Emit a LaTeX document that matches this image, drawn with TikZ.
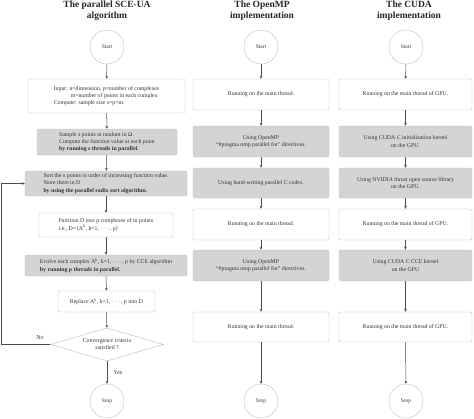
\documentclass[tikz,border=0pt]{standalone}
\usepackage{fontspec}
\setmainfont{Liberation Serif}
\usetikzlibrary{shapes.geometric,arrows.meta}

\tikzset{
  whitebox/.style={draw=gray!50, fill=white, rounded corners=2pt, text=black!80,
    font=\fontsize{5.8}{7.2}\selectfont, align=center, inner sep=1pt},
  graybox/.style={whitebox, fill=gray!34},
  term/.style={circle, draw=gray!50, minimum size=34pt, inner sep=0pt, text=black!80,
    font=\fontsize{5.5}{7}\selectfont},
  decide/.style={diamond, draw=gray!55, aspect=3.4, minimum width=113pt, minimum height=33pt,
    inner sep=0pt, text=black!80, font=\fontsize{5.8}{7.2}\selectfont, align=center},
  coltitle/.style={font=\fontsize{9.5}{11.5}\selectfont\bfseries, align=center, text=black!85},
  tag/.style={font=\fontsize{6}{7}\selectfont, text=black!80},
  flow/.style={-{Stealth[length=3pt,width=2.6pt]}, draw=black!70, line width=0.5pt},
}

\begin{document}
\begin{tikzpicture}[x=1pt,y=1pt]
	\useasboundingbox (0,0) rectangle (474,-418);

	% column titles
	\node[coltitle] (tsce) at (107,-10.5) {The parallel SCE-UA\\algorithm};
	\node[coltitle] (tomp) at (262,-10.5) {The OpenMP\\implementation};
	\node[coltitle] (tcuda) at (409,-10.5) {The CUDA\\implementation};

	% the parallel SCE-UA algorithm
	\node[term] (s1) at (107,-47) {Start};
	\node[whitebox, minimum width=157pt, minimum height=34pt, align=left] (input) at (106.5,-96)
		{Input: n=dimension, p=number of complexes\\\hspace*{17pt}m=number of points in each complex\\Compute: sample size s=p×m.};
	\node[graybox, minimum width=140pt, minimum height=26pt, align=left] (sample) at (107,-142)
		{Sample s points at random in Ω.\\Compute the function value at each point\\\textbf{by running s threads in parallel.}};
	\node[graybox, minimum width=162pt, minimum height=25pt, align=left] (sort) at (106,-183.5)
		{Sort the s points in order of increasing function value.\\Store them in D\\\textbf{by using the parallel radix sort algorithm.}};
	\node[whitebox, minimum width=134pt, minimum height=24pt, align=left] (part) at (106,-225)
		{Partition D into p complexes of m points\\i.e., D=\{A\textsuperscript{k}, k=1, $\cdots$, p\}};
	\node[graybox, minimum width=162pt, minimum height=21pt, align=left] (evolve) at (106,-265.5)
		{Evolve each complex A\textsuperscript{k}, k=1, $\cdots$, p by CCE algorithm\\\textbf{by running p threads in parallel.}};
	\node[whitebox, minimum width=97pt, minimum height=21pt] (replace) at (106.5,-301.5)
		{Replace A\textsuperscript{k}, k=1, $\cdots$, p into D};
	\node[decide] (conv) at (107,-344.5) {Convergence criteria\\satisfied ?};
	\node[term] (e1) at (107,-401) {Stop};
	\node[tag] (no) at (40,-338) {No};
	\coordinate (back) at (1,-344.5);

	\draw[flow] (s1) -- (input);
	\draw[flow] (input) -- (sample);
	\draw[flow] (sample) -- (sort);
	\draw[flow] (sort) -- (part);
	\draw[flow] (part) -- (evolve);
	\draw[flow] (evolve) -- (replace);
	\draw[flow] (replace) -- (conv);
	\draw[flow] (conv) -- node[tag, right=3pt] (yes) {Yes} (e1);
	\draw[flow] (conv.west) -- (back) |- (sort.west);

	% the OpenMP implementation
	\node[term] (s2) at (261,-47) {Start};
	\node[whitebox, minimum width=136pt, minimum height=31pt] (m1) at (261,-94.5) {Running on the main thread.};
	\node[graybox, minimum width=136pt, minimum height=31pt] (m2) at (261,-141.5)
		{Using OpenMP\\“\#pragma omp parallel for” directives.};
	\node[graybox, minimum width=136pt, minimum height=30pt] (m3) at (261,-183) {Using hand-writing parallel C codes.};
	\node[whitebox, minimum width=136pt, minimum height=31pt] (m4) at (261,-224.5) {Running on the main thread.};
	\node[graybox, minimum width=136pt, minimum height=31pt] (m5) at (261,-265.5)
		{Using OpenMP\\“\#pragma omp parallel for” directives.};
	\node[whitebox, minimum width=136pt, minimum height=30pt] (m6) at (261,-327) {Running on the main thread.};
	\node[term] (e2) at (261,-401) {Stop};

	\draw[flow] (s2) -- (m1);
	\draw[flow] (m1) -- (m2);
	\draw[flow] (m2) -- (m3);
	\draw[flow] (m3) -- (m4);
	\draw[flow] (m4) -- (m5);
	\draw[flow] (m5) -- (m6);
	\draw[flow] (m6) -- (e2);

	% the CUDA implementation
	\node[term] (s3) at (406,-47) {Start};
	\node[whitebox, minimum width=133pt, minimum height=31pt] (c1) at (405.5,-94.5) {Running on the main thread of GPU.};
	\node[graybox, minimum width=133pt, minimum height=31pt] (c2) at (405.5,-141.5)
		{Using CUDA C initialization kernel\\on the GPU.};
	\node[graybox, minimum width=133pt, minimum height=30pt] (c3) at (405.5,-183)
		{Using NVIDIA thrust open source library\\on the GPU.};
	\node[whitebox, minimum width=133pt, minimum height=31pt] (c4) at (405.5,-224.5) {Running on the main thread of GPU.};
	\node[graybox, minimum width=133pt, minimum height=31pt] (c5) at (405.5,-265.5)
		{Using CUDA C CCE kernel\\on the GPU};
	\node[whitebox, minimum width=133pt, minimum height=30pt] (c6) at (405.5,-327) {Running on the main thread of GPU.};
	\node[term] (e3) at (406,-401) {Stop};

	\draw[flow] (s3) -- (c1);
	\draw[flow] (c1) -- (c2);
	\draw[flow] (c2) -- (c3);
	\draw[flow] (c3) -- (c4);
	\draw[flow] (c4) -- (c5);
	\draw[flow] (c5) -- (c6);
	\draw[flow] (c6) -- (e3);
\end{tikzpicture}
\end{document}
